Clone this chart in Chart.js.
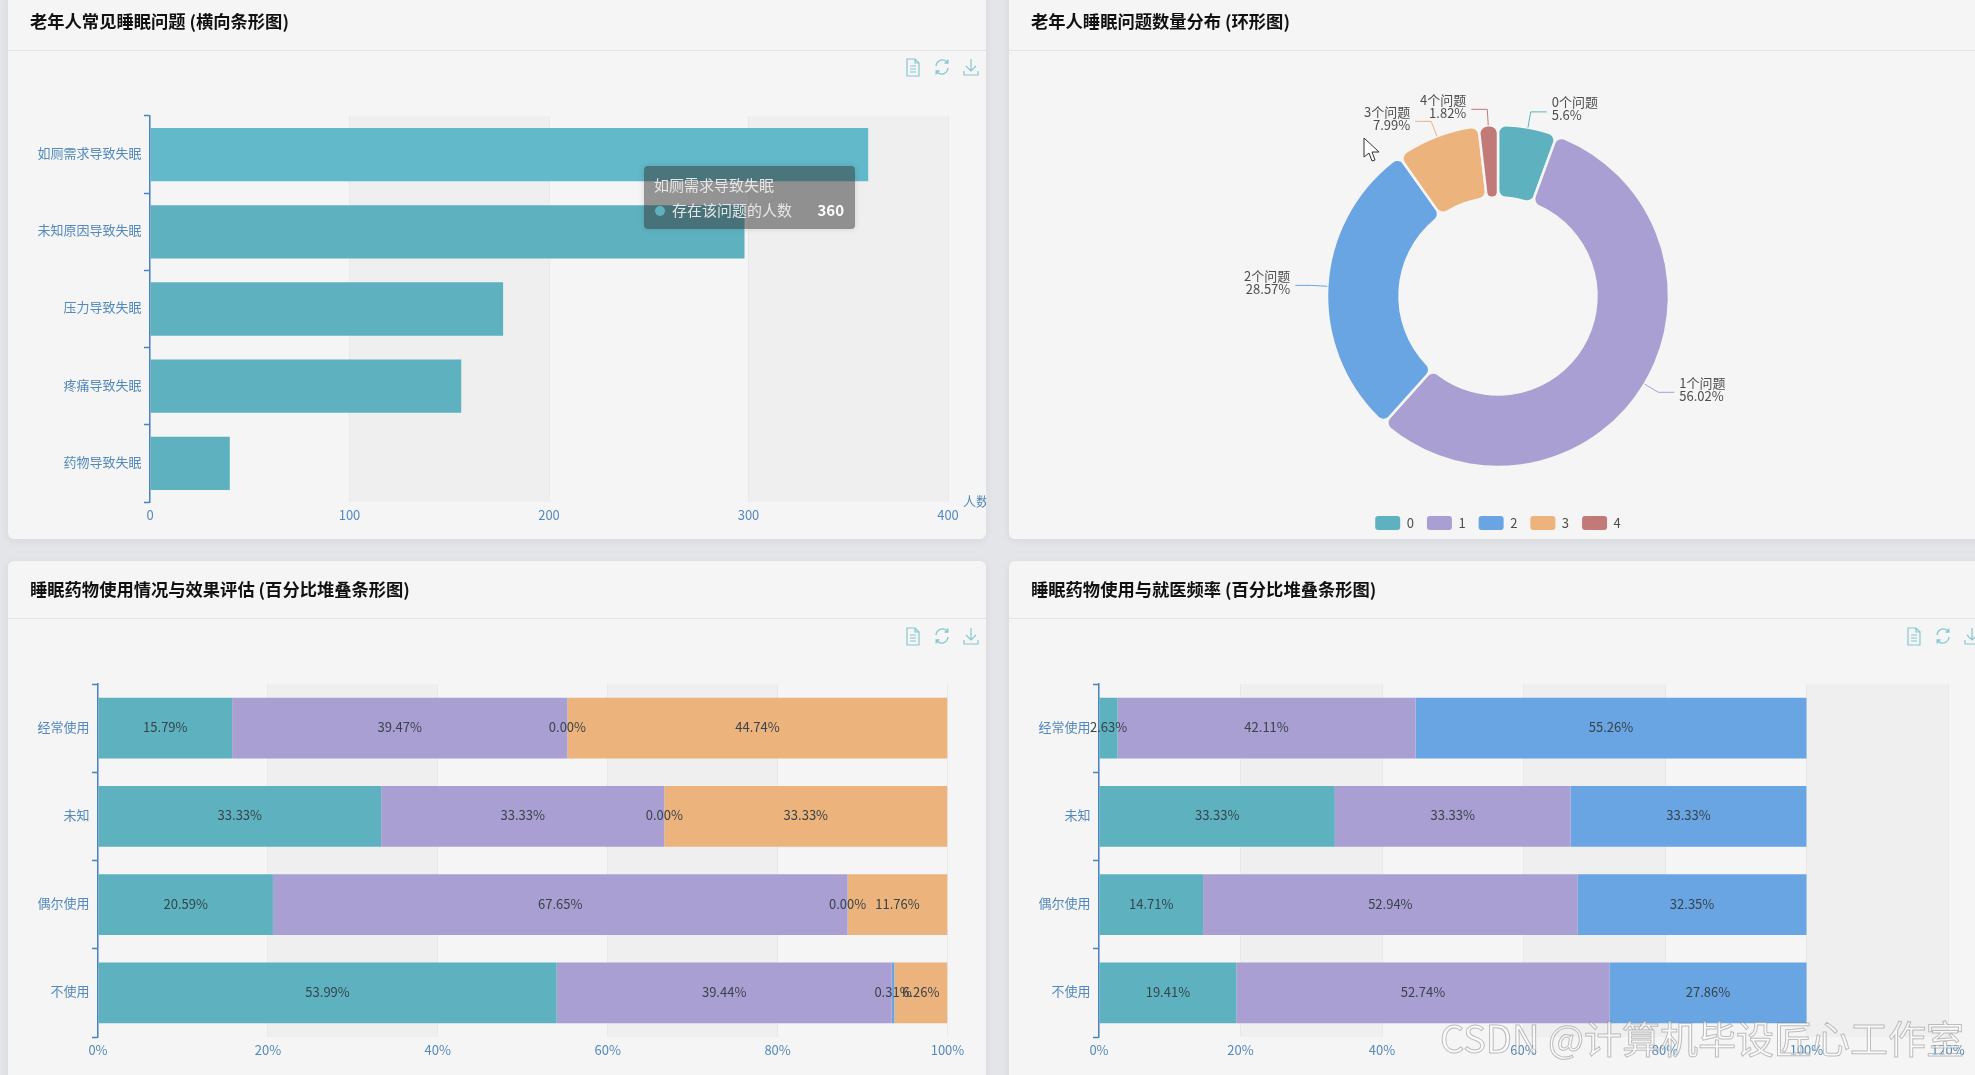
<!DOCTYPE html>
<html lang="zh">
<head>
<meta charset="utf-8">
<title>老年人睡眠问题</title>
<script src="https://cdn.jsdelivr.net/npm/chart.js@4"></script>
<style>
    html, body { margin: 0; width: 1975px; height: 1075px; overflow: hidden; background: #e3e5e8; font-family: "Noto Sans CJK SC", "Noto Sans", sans-serif; }
    .card { position: absolute; width: 978px; height: 547px; background: #f5f5f5; border-radius: 6px; box-shadow: 0 2px 8px rgba(0,0,0,.06); overflow: hidden; }
    #card1 { left: 8px; top: -8px; }
    #card2 { left: 1009px; top: -8px; }
    #card3 { left: 8px; top: 561px; }
    #card4 { left: 1009px; top: 561px; }
    .card h3 { position: absolute; left: 22px; top: 17px; margin: 0; font-size: 17.3px; line-height: 24px; font-weight: 700; color: #111; z-index: 2; white-space: nowrap; }
    #card3 h3, #card4 h3 { top: 16px; }
    .card .rule { position: absolute; left: 0; right: 0; top: 58px; height: 1px; background: #e4e4e4; }
    #card3 .rule, #card4 .rule { top: 57px; }
    .card canvas { position: absolute; left: 0; top: 0; }
    .tools { position: absolute; left: 897px; top: 66px; z-index: 2; }
    .tools svg { position: absolute; top: 0; }
    #tip { position: absolute; left: 644px; top: 166px; width: 211px; height: 63px; background: rgba(50,50,50,.5); border-radius: 4px; color: #e6e6e6; font-size: 15px; line-height: 20px; z-index: 5; box-shadow: 0 0 6px rgba(0,0,0,.12); }
    #tip span { position: absolute; white-space: nowrap; }
    #tip i { position: absolute; left: 11px; top: 40px; width: 10px; height: 10px; border-radius: 50%; background: #5eb2c0; }
    #mark { position: absolute; left: 1440px; top: 1012px; font-size: 38px; line-height: 50px; white-space: nowrap; color: rgba(255,255,255,.55); -webkit-text-stroke: 1px rgba(130,130,130,.5); z-index: 6; }
    #cursor { position: absolute; left: 1363px; top: 137px; z-index: 6; }
</style>
</head>
<body>
<div class="card" id="card1"><h3>老年人常见睡眠问题 (横向条形图)</h3><div class="rule"></div><div class="tools"></div><canvas id="sleepBar" width="978" height="547"></canvas></div>
<div class="card" id="card2"><h3>老年人睡眠问题数量分布 (环形图)</h3><div class="rule"></div><canvas id="countDonut" width="978" height="548"></canvas></div>
<div class="card" id="card3"><h3>睡眠药物使用情况与效果评估 (百分比堆叠条形图)</h3><div class="rule"></div><div class="tools"></div><canvas id="drugEffect" width="978" height="547"></canvas></div>
<div class="card" id="card4"><h3>睡眠药物使用与就医频率 (百分比堆叠条形图)</h3><div class="rule"></div><div class="tools"></div><canvas id="drugVisit" width="978" height="547"></canvas></div>

<div id="tip">
    <span style="left:10px;top:9px">如厕需求导致失眠</span>
    <i></i>
    <span style="left:28px;top:34px">存在该问题的人数</span>
    <span style="right:11px;top:34px;font-weight:700;color:#fff">360</span>
</div>
<svg id="cursor" width="18" height="26" viewBox="0 0 18 26"><path d="M1 1 L1 20 L6 16 L9 24 L12 23 L9 15 L16 15 Z" fill="#fff" stroke="#333" stroke-width="1"/></svg>
<div id="mark">CSDN @计算机毕设匠心工作室</div>

<script>
// chart data
const problemLabels = ["如厕需求导致失眠", "未知原因导致失眠", "压力导致失眠", "疼痛导致失眠", "药物导致失眠"];
const problemCounts = [360, 298, 177, 156, 40];
const problemTicks = [0, 100, 200, 300, 400];

const countLabels = ["0", "1", "2", "3", "4"];
const countNames = ["0个问题", "1个问题", "2个问题", "3个问题", "4个问题"];
const countShares = [5.6, 56.02, 28.57, 7.99, 1.82];

const drugLabels = ["经常使用", "未知", "偶尔使用", "不使用"];
const effectA = [15.79, 33.33, 20.59, 53.99];
const effectB = [39.47, 33.33, 67.65, 39.44];
const effectC = [0.00, 0.00, 0.00, 0.31];
const effectD = [44.74, 33.33, 11.76, 6.26];
const visitA = [2.63, 33.33, 14.71, 19.41];
const visitB = [42.11, 33.33, 52.94, 52.74];
const visitC = [55.26, 33.33, 32.35, 27.86];

const TEAL = "#5eb2c0", PURPLE = "#aa9fd2", BLUE = "#69a5e3", ORANGE = "#ecb37c", RED = "#c27a78";
const AXIS = "#4a84bd", LABEL = "#5389bb", CARD = "#f5f5f5";
const FONT = '"Noto Sans CJK SC", "Noto Sans", sans-serif';

Chart.defaults.font.family = FONT;
Chart.defaults.animation = false;

// toolbox icons
const icons =
    '<svg style="left:0" width="16" height="19" viewBox="0 0 16 19" fill="none" stroke="#86c8d0" stroke-width="1.2"><path d="M2 1 H10 L14 5 V18 H2 Z M10 1 V5 H14 M5 8 H11 M5 11 H11 M5 14 H11"/></svg>' +
    '<svg style="left:28px" width="18" height="18" viewBox="0 0 18 18" fill="none" stroke="#86c8d0" stroke-width="1.4"><path d="M3 8 A6.5 7 0 0 1 14.5 4.5 M15 10 A6.5 7 0 0 1 3.5 13.5 M14.8 1.5 V5 H11.5 M3.2 16.5 V13 H6.5"/></svg>' +
    '<svg style="left:57px" width="18" height="18" viewBox="0 0 18 18" fill="none" stroke="#86c8d0" stroke-width="1.2"><path d="M9 1 V12 M4 8 L9 13 L14 8 M2 13 V17 H16 V13"/></svg>';
document.querySelectorAll(".tools").forEach(t => { t.innerHTML = icons; });

// alternating grey bands behind the bars
const splitBands = {
    id: "splitBands",
    beforeDraw(chart) {
        const x = chart.scales.x, area = chart.chartArea, ctx = chart.ctx;
        ctx.save();
        ctx.fillStyle = "#efefef";
        x.ticks.forEach((t, i) => {
            if (i % 2 === 1 && x.ticks[i + 1]) {
                const a = x.getPixelForValue(t.value);
                const b = x.getPixelForValue(x.ticks[i + 1].value);
                ctx.fillRect(a, area.top, b - a, area.bottom - area.top);
            }
        });
        ctx.restore();
    }
};

// percentage in the middle of each stacked segment
const segmentLabels = {
    id: "segmentLabels",
    afterDatasetsDraw(chart) {
        const ctx = chart.ctx;
        ctx.save();
        ctx.font = "13px " + FONT;
        ctx.fillStyle = "#38434a";
        ctx.textAlign = "center";
        ctx.textBaseline = "middle";
        chart.data.datasets.forEach((ds, d) => {
            chart.getDatasetMeta(d).data.forEach((bar, i) => {
                ctx.fillText(ds.data[i].toFixed(2) + "%", (bar.x + bar.base) / 2, bar.y - 1);
            });
        });
        ctx.restore();
    }
};

// x axis name, cut by the card edge like in the page
const axisName = {
    id: "axisName",
    afterDraw(chart) {
        const ctx = chart.ctx;
        ctx.save();
        ctx.font = "13px " + FONT;
        ctx.fillStyle = LABEL;
        ctx.textBaseline = "middle";
        ctx.fillText("人数", chart.chartArea.right + 15, chart.chartArea.bottom - 1);
        ctx.restore();
    }
};

// leader lines and two-line labels of the ring
const ringLabels = {
    id: "ringLabels",
    afterDatasetsDraw(chart) {
        const ctx = chart.ctx;
        chart.getDatasetMeta(0).data.forEach((arc, i) => {
            const mid = (arc.startAngle + arc.endAngle) / 2;
            const cos = Math.cos(mid), sin = Math.sin(mid);
            const R = arc.outerRadius;
            const side = cos >= 0 ? 1 : -1;
            const px = arc.x + (R + 16) * cos, py = arc.y + (R + 16) * sin;
            const ex = px + side * 16;
            ctx.save();
            ctx.strokeStyle = [TEAL, PURPLE, BLUE, ORANGE, RED][i];
            ctx.lineWidth = 1;
            ctx.beginPath();
            ctx.moveTo(arc.x + R * cos, arc.y + R * sin);
            ctx.lineTo(px, py);
            ctx.lineTo(ex, py);
            ctx.stroke();
            ctx.font = "13px " + FONT;
            ctx.fillStyle = "#4d4d4d";
            ctx.textAlign = side > 0 ? "left" : "right";
            ctx.textBaseline = "middle";
            ctx.fillText(countNames[i], ex + side * 5, py - 9.5);
            ctx.fillText(countShares[i] + "%", ex + side * 5, py + 3.5);
            ctx.restore();
        });
    }
};

function barOptions(left, top, right, bottom, xMax, step, percent) {
    return {
        responsive: false,
        indexAxis: "y",
        animation: false,
        layout: { autoPadding: false, padding: { left: 0, top: top, right: 978 - right, bottom: 0 } },
        plugins: { legend: { display: false }, tooltip: { enabled: false } },
        scales: {
            x: {
                stacked: percent,
                min: 0,
                max: xMax,
                afterFit: s => { s.height = 547 - bottom; },
                border: { display: false },
                grid: { color: "#e9e9e9", drawTicks: false },
                ticks: {
                    stepSize: step,
                    padding: 5,
                    color: LABEL,
                    font: { size: 13 },
                    maxRotation: 0,
                    callback: v => percent ? v + "%" : v
                }
            },
            y: {
                stacked: percent,
                afterFit: s => { s.width = left; },
                border: { color: AXIS, width: 1.5 },
                grid: { offset: true, drawOnChartArea: false, tickLength: 6, tickColor: AXIS, tickWidth: 1.5 },
                ticks: { padding: 2.5, labelOffset: -1.5, color: LABEL, font: { size: 13 } }
            }
        }
    };
}

function barSet(values, color) {
    return { data: values, backgroundColor: color, barPercentage: 0.69, categoryPercentage: 1 };
}

new Chart(document.getElementById("sleepBar"), {
    type: "bar",
    data: {
        labels: problemLabels,
        datasets: [barSet(problemCounts, ["#62b9c9", TEAL, TEAL, TEAL, TEAL])]
    },
    options: barOptions(142, 124, 940, 510, problemTicks[problemTicks.length - 1], problemTicks[1], false),
    plugins: [splitBands, axisName]
});

new Chart(document.getElementById("countDonut"), {
    type: "doughnut",
    data: {
        labels: countLabels,
        datasets: [{
            data: countShares,
            backgroundColor: [TEAL, PURPLE, BLUE, ORANGE, RED],
            borderColor: CARD,
            borderWidth: 2.5,
            borderRadius: 8
        }]
    },
    options: {
        responsive: false,
        animation: false,
        radius: 171,
        cutout: "57.6%",
        layout: { padding: { top: 97 } },
        plugins: {
            tooltip: { enabled: false },
            legend: {
                position: "bottom",
                labels: {
                    boxWidth: 25,
                    boxHeight: 14,
                    padding: 13,
                    color: "#4d4d4d",
                    font: { size: 13 },
                    useBorderRadius: true,
                    borderRadius: 3,
                    generateLabels: chart =>
                        Chart.overrides.doughnut.plugins.legend.labels.generateLabels(chart).map(l => ({ ...l, lineWidth: 0 }))
                }
            }
        }
    },
    plugins: [ringLabels]
});

new Chart(document.getElementById("drugEffect"), {
    type: "bar",
    data: {
        labels: drugLabels,
        datasets: [barSet(effectA, TEAL), barSet(effectB, PURPLE), barSet(effectC, BLUE), barSet(effectD, ORANGE)]
    },
    options: barOptions(90, 123, 939.5, 476, 100, 20, true),
    plugins: [splitBands, segmentLabels]
});

new Chart(document.getElementById("drugVisit"), {
    type: "bar",
    data: {
        labels: drugLabels,
        datasets: [barSet(visitA, TEAL), barSet(visitB, PURPLE), barSet(visitC, BLUE)]
    },
    options: barOptions(90, 123, 939, 476, 120, 20, true),
    plugins: [splitBands, segmentLabels]
});
</script>
</body>
</html>
